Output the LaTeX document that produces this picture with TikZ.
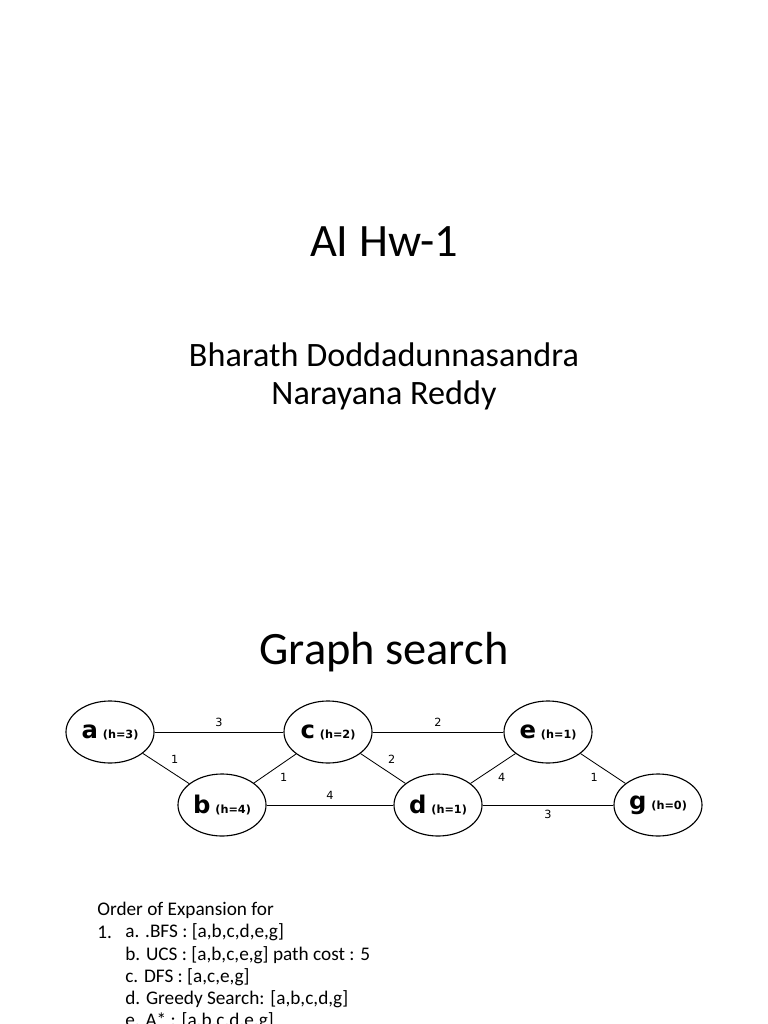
\documentclass[tikz,border=0pt]{standalone}
\usepackage{fontspec}
\setmainfont{Carlito}
\setsansfont{DejaVu Sans}
\usetikzlibrary{shapes.geometric, positioning}

\begin{document}
\begin{tikzpicture}[
        x=0.025cm, y=-0.025cm,
        state/.style={draw, thick, ellipse, minimum width=2.2cm, minimum height=1.55cm, inner sep=0pt, font=\sffamily\bfseries},
        edge/.style={semithick},
        cost/.style={font=\sffamily\footnotesize},
        line/.style={anchor=west, inner sep=0pt, font=\fontsize{13.7}{16}\selectfont}
    ]
        \useasboundingbox (0,0) rectangle (768,1024);
        \clip (0,0) rectangle (768,1024);

        % Title
        \node[font=\fontsize{33}{40}\selectfont] (title) at (384,242) {AI Hw-1};
        \node[font=\fontsize{24.3}{29}\selectfont] (name1) at (384,355) {Bharath Doddadunnasandra};
        \node[font=\fontsize{24.3}{29}\selectfont] (name2) at (384,395) {Narayana Reddy};
        \node[font=\fontsize{33}{40}\selectfont] (heading) at (384,652) {Graph search};

        % States
        \node[state] (a) at (110,732) {{\LARGE a}\ {\footnotesize(h=3)}};
        \node[state] (c) at (328,732) {{\LARGE c}\ {\footnotesize(h=2)}};
        \node[state] (e) at (548,732) {{\LARGE e}\ {\footnotesize(h=1)}};
        \node[state] (b) at (222,805) {{\LARGE b}\ {\footnotesize(h=4)}};
        \node[state] (d) at (438,805) {{\LARGE d}\ {\footnotesize(h=1)}};
        \node[state] (g) at (658,805) {{\LARGE g}\ {\footnotesize(h=0)}};

        % Edges
        \draw[edge] (a) -- (c) node[cost, midway, above] {3};
        \draw[edge] (c) -- (e) node[cost, midway, above] {2};
        \draw[edge] (a) -- (b) node[cost, midway, above right] {1};
        \draw[edge] (c) -- (b) node[cost, midway, below right] {1};
        \draw[edge] (c) -- (d) node[cost, midway, above right] {2};
        \draw[edge] (b) -- (d) node[cost, midway, above] {4};
        \draw[edge] (e) -- (d) node[cost, midway, below right] {4};
        \draw[edge] (e) -- (g) node[cost, midway, below left] {1};
        \draw[edge] (d) -- (g) node[cost, midway, below] {3};

        % Answers
        \node[line] (order) at (97,910) {Order of Expansion for};
        \node[line] (num) at (97,932) {1.};
        \node[line] (bfs) at (125,932) {a. .BFS : [a,b,c,d,e,g]};
        \node[line] (ucs) at (125,955) {b. UCS : [a,b,c,e,g] path cost : 5};
        \node[line] (dfs) at (125,977) {c. DFS : [a,c,e,g]};
        \node[line] (greedy) at (125,999) {d. Greedy Search: [a,b,c,d,g]};
        \node[line] (astar) at (125,1021) {e. A* : [a,b,c,d,e,g]};
    \end{tikzpicture}
\end{document}
